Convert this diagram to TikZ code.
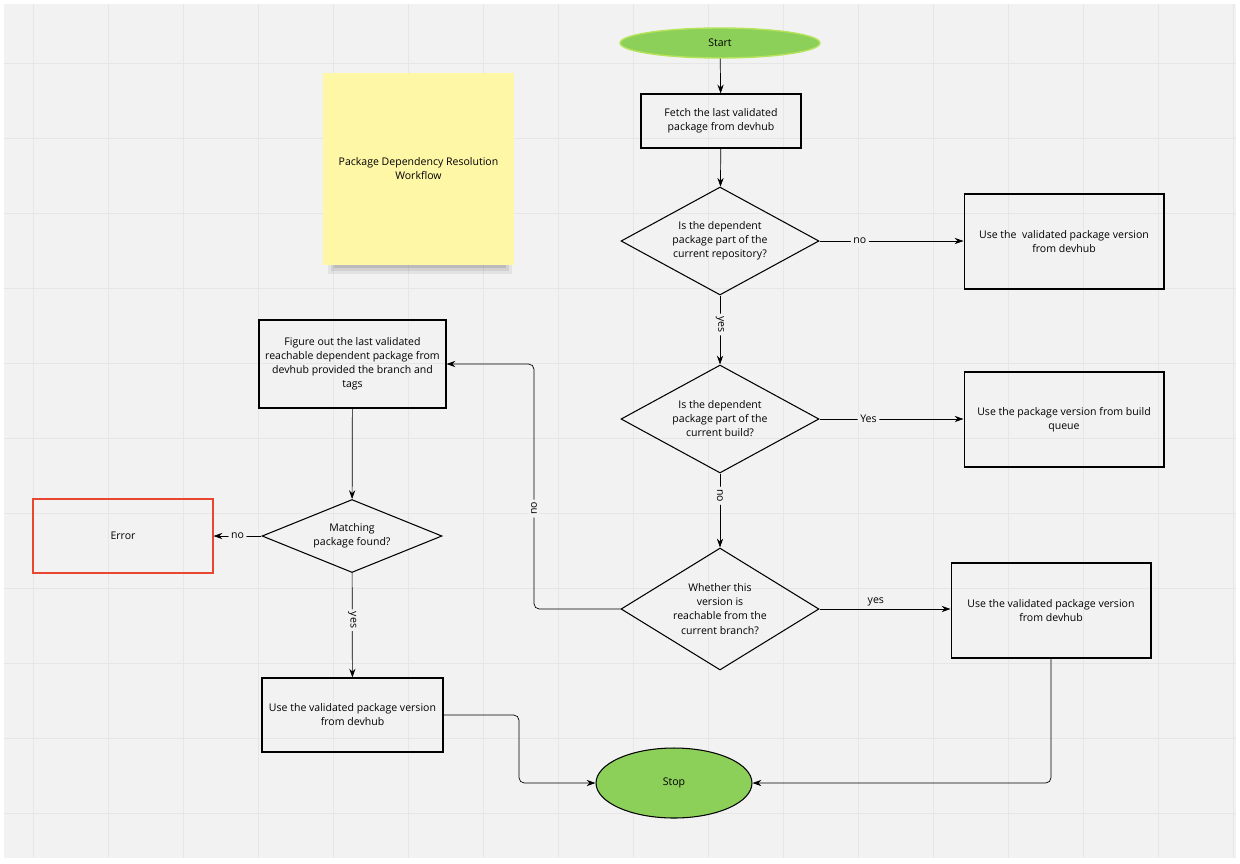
\documentclass[tikz,border=0pt]{standalone}
\usepackage{fontspec}
\setmainfont{Open Sans}
\usetikzlibrary{shapes.geometric,arrows.meta}
\definecolor{bg}{HTML}{F2F2F2}
\definecolor{gridc}{HTML}{E6E6E6}
\definecolor{okgreen}{HTML}{8CD05A}
\definecolor{okedge}{HTML}{B6E35A}
\definecolor{sticky}{HTML}{FEF7A6}
\definecolor{errred}{HTML}{E8462E}
\tikzset{
  x=0.02cm,y=-0.02cm,
  every node/.style={font=\fontsize{6}{8}\selectfont,align=center},
  box/.style={draw,semithick,minimum width=#1,inner sep=1pt},
  dia/.style={draw,semithick,diamond,aspect=1.83,inner sep=0pt,minimum width=3.96cm,minimum height=2.16cm},
  arr/.style={-{Stealth[length=5pt,width=3.5pt]},thin,rounded corners=3pt},
  lbl/.style={fill=bg,inner sep=1.5pt}
}
\begin{document}
\begin{tikzpicture}
\useasboundingbox (0,0) rectangle (1240,863);
\fill[white] (0,0) rectangle (1240,863);
\fill[bg] (4,4) rectangle (1236,858);
\foreach \y in {63,138,213,288,363,438,513,588,663,738,813}
  \draw[gridc,line width=0.4pt] (4,\y) -- (1236,\y);
\foreach \x in {33,108,183,258,333,408,483,558,633,708,783,858,933,1008,1083,1158,1233}
  \draw[gridc,line width=0.4pt] (\x,4) -- (\x,858);
% sticky shadow
\foreach \d/\o in {12/0.06,9/0.08,6/0.1,3/0.14}
  \fill[black,opacity=\o] (340-\d,250-\d) rectangle (500+\d,262+\d);
\node[fill=sticky,minimum width=3.82cm,minimum height=3.84cm] (note) at (418.5,169) {Package Dependency Resolution\\Workflow};
% nodes
\node[ellipse,draw=okedge,thick,fill=okgreen,minimum width=4cm,minimum height=0.6cm] (start) at (720,43) {Start};
\node[box=3.2cm,minimum height=1.08cm] (fetch) at (721,121) {Fetch the last validated\\package from devhub};
\node[dia] (d1) at (720,241) {Is the dependent\\package part of the\\current repository?};
\node[box=4cm,minimum height=1.9cm] (u1) at (1064,241.5) {Use the\ \ validated package version\\from devhub};
\node[dia] (d2) at (720,419) {Is the dependent\\package part of the\\current build?};
\node[box=4cm,minimum height=1.9cm] (u2) at (1064,419.5) {Use the package version from build\\queue};
\node[dia,minimum height=2.44cm] (d3) at (720,609) {Whether this\\version is\\reachable from the\\current branch?};
\node[box=4cm,minimum height=1.9cm] (u3) at (1051,610.5) {Use the validated package version\\from devhub};
\node[box=3.74cm,minimum height=1.76cm] (fig) at (352.5,364) {Figure out the last validated\\reachable dependent package from\\devhub provided the branch and\\tags};
\node[dia,minimum width=3.6cm,minimum height=1.46cm] (d4) at (352,536) {Matching\\package found?};
\node[box=3.6cm,draw=errred,minimum height=1.48cm] (err) at (123,536) {Error};
\node[box=3.62cm,minimum height=1.48cm] (u4) at (352.5,715) {Use the validated package version\\from devhub};
\node[ellipse,draw,semithick,fill=okgreen,minimum width=3.12cm,minimum height=1.4cm] (stop) at (674,783) {Stop};
% edges
\draw[arr] (start) -- (fetch);
\draw[arr] (fetch) -- (d1);
\draw[arr] (d1.east) -- node[lbl,pos=0.28]{no} (u1.west|-d1.east);
\draw[arr] (d1) -- node[lbl,rotate=-90,pos=0.42]{yes} (d2);
\draw[arr] (d2.east) -- node[lbl,pos=0.34]{Yes} (u2.west|-d2.east);
\draw[arr] (d2) -- node[lbl,rotate=-90,pos=0.3]{no} (d3);
\draw[arr] (d3.east) -- node[above,pos=0.43,inner sep=1.5pt]{yes} (u3.west|-d3.east);
\draw[arr] (d3.west) -- (534,609) -- node[lbl,rotate=90,pos=0.41]{no} (534,364) -- (fig.east);
\draw[arr] (fig) -- (d4);
\draw[arr] (d4.west) -- node[lbl]{no} (err.east);
\draw[arr] (d4) -- node[lbl,rotate=-90,pos=0.45]{yes} (u4);
\draw[arr] (u3.south) -- (1051,783) -- (stop.east);
\draw[arr] (u4.east) -- (519,715) -- (519,783) -- (stop.west);
\end{tikzpicture}
\end{document}
